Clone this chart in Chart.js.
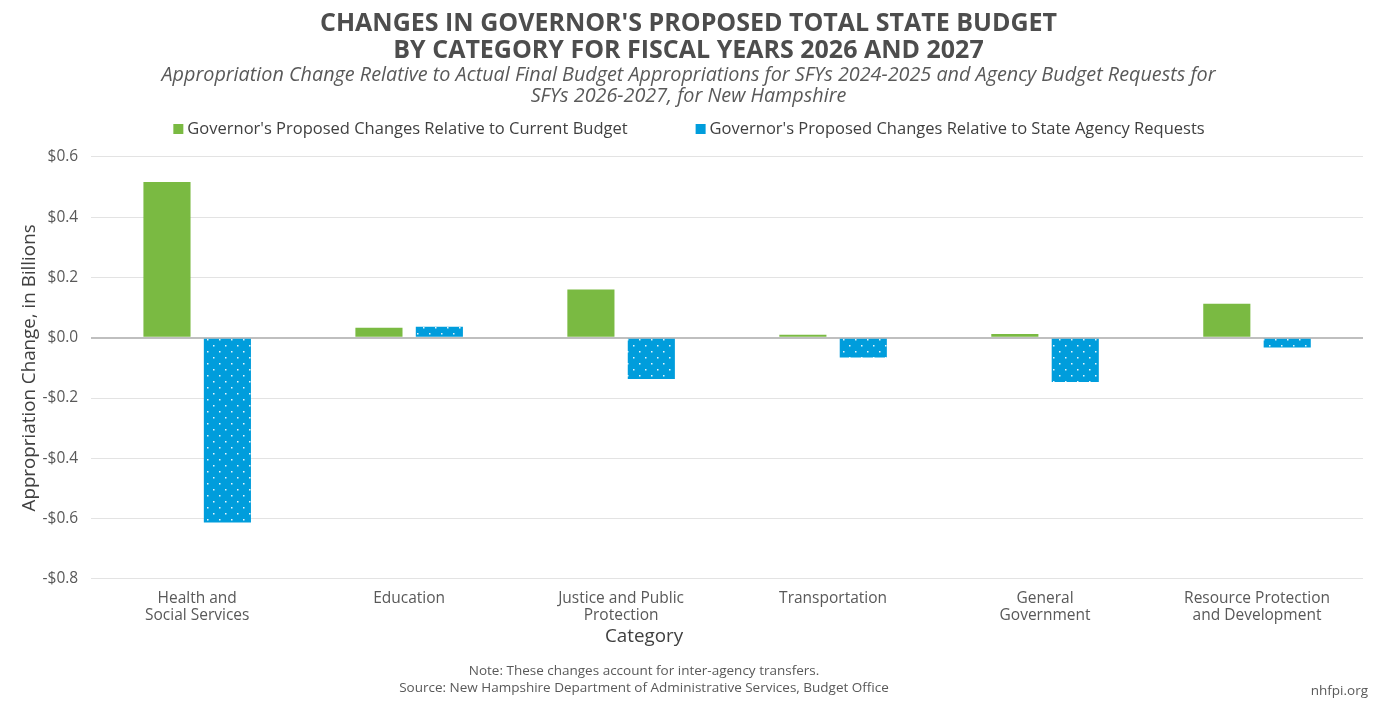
<!DOCTYPE html>
<html>
<head>
<meta charset="utf-8">
<script src="https://cdn.jsdelivr.net/npm/chart.js@4/dist/chart.umd.min.js"></script>
<style>
  html, body { margin: 0; padding: 0; background: #fff; }
  #wrap { width: 1398px; height: 713px; position: relative; }
</style>
</head>
<body>
<div id="wrap"><canvas id="budgetChart"></canvas></div>
<script>
var categories = [
  ["Health and", "Social Services"],
  "Education",
  ["Justice and Public", "Protection"],
  "Transportation",
  ["General", "Government"],
  ["Resource Protection", "and Development"]
];
var vsCurrentBudget = [0.517, 0.033, 0.160, 0.010, 0.013, 0.113];
var vsAgencyRequests = [-0.613, 0.037, -0.137, -0.065, -0.147, -0.032];
var yTicks = [-0.8, -0.6, -0.4, -0.2, 0.0, 0.2, 0.4, 0.6];

var green = "#7aba42";
var blue = "#009ddc";
var textGrey = "#595959";

// dotted fill for the agency-request bars
function dotPattern() {
  var c = document.createElement("canvas");
  c.width = 12; c.height = 12;
  var g = c.getContext("2d");
  g.fillStyle = blue;
  g.fillRect(0, 0, 12, 12);
  g.fillStyle = "rgba(255,255,255,0.9)";
  g.fillRect(3, 3, 1.5, 1.5);
  g.fillRect(9, 9, 1.5, 1.5);
  return g.createPattern(c, "repeat");
}

var ctx = document.getElementById("budgetChart").getContext("2d");

// legend with a wide gap between items, drawn under the subtitle
var wideLegend = {
  id: "wideLegend",
  afterDraw: function(chart) {
    var c = chart.ctx;
    var swatches = [green, blue];
    var gap = 68, box = 10, boxGap = 4, y = 129;
    c.save();
    c.font = "16.5px 'Open Sans'";
    c.textBaseline = "middle";
    var widths = chart.data.datasets.map(function(d) { return c.measureText(d.label).width; });
    var total = widths[0] + widths[1] + 2 * (box + boxGap) + gap;
    var x = 689 - total / 2;
    chart.data.datasets.forEach(function(d, i) {
      c.fillStyle = swatches[i];
      c.fillRect(x, y - box / 2, box, box);
      x += box + boxGap;
      c.fillStyle = "#404040";
      c.fillText(d.label, x, y);
      x += widths[i] + gap;
    });
    c.restore();
  }
};

// x axis title (centred on the page, not the plot) and the notes
var footerNotes = {
  id: "footerNotes",
  afterDraw: function(chart) {
    var c = chart.ctx;
    c.save();
    c.textAlign = "center";
    c.textBaseline = "middle";
    c.fillStyle = "#404040";
    c.font = "18.8px 'Open Sans'";
    c.fillText("Category", 644, 637);
    c.fillStyle = textGrey;
    c.font = "13.5px 'Open Sans'";
    c.fillText("Note: These changes account for inter-agency transfers.", 644, 671);
    c.fillText("Source: New Hampshire Department of Administrative Services, Budget Office", 644, 688);
    c.textAlign = "right";
    c.fillText("nhfpi.org", 1368, 691);
    c.restore();
  }
};

var chart = new Chart(ctx, {
  type: "bar",
  data: {
    labels: categories,
    datasets: [
      {
        label: "Governor's Proposed Changes Relative to Current Budget",
        data: vsCurrentBudget,
        backgroundColor: green,
        barPercentage: 0.78,
        categoryPercentage: 0.57
      },
      {
        label: "Governor's Proposed Changes Relative to State Agency Requests",
        data: vsAgencyRequests,
        backgroundColor: dotPattern(),
        barPercentage: 0.78,
        categoryPercentage: 0.57
      }
    ]
  },
  options: {
    responsive: true,
    maintainAspectRatio: false,
    animation: false,
    layout: { padding: { left: 14, right: 35, top: 10, bottom: 86 } },
    plugins: {
      title: {
        display: true,
        text: ["CHANGES IN GOVERNOR'S PROPOSED TOTAL STATE BUDGET", "BY CATEGORY FOR FISCAL YEARS 2026 AND 2027"],
        color: "#4d4d4d",
        font: { family: "'Open Sans'", size: 25, weight: "bold", lineHeight: 1.08 },
        padding: { top: 0, bottom: 0.5 }
      },
      subtitle: {
        display: true,
        text: ["Appropriation Change Relative to Actual Final Budget Appropriations for SFYs 2024-2025 and Agency Budget Requests for", "SFYs 2026-2027, for New Hampshire"],
        color: textGrey,
        font: { family: "'Open Sans'", size: 19.8, style: "italic", lineHeight: 1.06 },
        padding: { top: 0, bottom: 50.5 }
      },
      legend: { display: false },
      tooltip: { enabled: false }
    },
    scales: {
      x: {
        grid: { display: false },
        border: { display: false },
        ticks: {
          color: textGrey,
          font: { family: "'Open Sans'", size: 15.5, lineHeight: 1.1 },
          maxRotation: 0,
          padding: 3
        }
      },
      y: {
        min: -0.8,
        max: 0.6,
        afterBuildTicks: function(axis) {
          axis.ticks = yTicks.map(function(v) { return { value: v }; });
        },
        grid: {
          drawTicks: false,
          color: function(c) { return c.tick && Math.abs(c.tick.value) < 1e-9 ? "#bfbfbf" : "#e3e3e3"; },
          lineWidth: function(c) { return c.tick && Math.abs(c.tick.value) < 1e-9 ? 2 : 1; }
        },
        border: { display: false },
        ticks: {
          color: textGrey,
          font: { family: "'Open Sans'", size: 15.5 },
          padding: 13,
          callback: function(v) {
            var s = "$" + Math.abs(v).toFixed(1);
            return v < -1e-9 ? "-" + s : s;
          }
        },
        title: {
          display: true,
          text: "Appropriation Change, in Billions",
          color: "#404040",
          font: { family: "'Open Sans'", size: 18.8 },
          padding: { bottom: -11 }
        }
      }
    }
  },
  plugins: [wideLegend, footerNotes]
});
</script>
</body>
</html>
